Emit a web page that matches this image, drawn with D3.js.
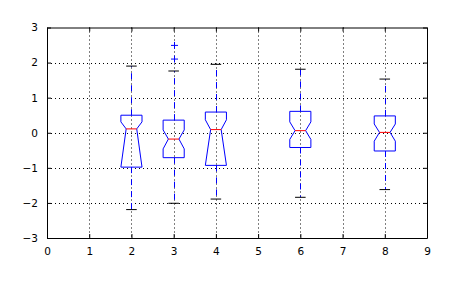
<!DOCTYPE html>
<html>
<head>
<meta charset="utf-8">
<script src="https://cdn.jsdelivr.net/npm/d3@7"></script>
<style>
body { margin: 0; background: #fff; }
svg { display: block; }
.tick text { font-family: "DejaVu Sans", sans-serif; font-size: 10.5px; fill: #000; }
</style>
</head>
<body>
<div id="chart"></div>
<script>
var width = 474;
var height = 281;

// box positions and statistics
var positions = [2, 3, 4, 6, 8];
var q1 = [-0.98, -0.71, -0.93, -0.42, -0.52];
var medians = [0.11, -0.18, 0.09, 0.06, 0.01];
var q3 = [0.50, 0.36, 0.59, 0.61, 0.48];
var notchLo = [-0.98, -0.46, -0.93, -0.19, -0.24];
var notchHi = [0.31, 0.08, 0.37, 0.31, 0.25];
var whiskLo = [-2.19, -2.01, -1.89, -1.84, -1.62];
var whiskHi = [1.90, 1.76, 1.95, 1.81, 1.53];
var fliers = [[], [2.10, 2.49], [], [], []];

var xTicks = [0, 1, 2, 3, 4, 5, 6, 7, 8, 9];
var yTicks = [-3, -2, -1, 0, 1, 2, 3];

var plotLeft = 47, plotRight = 427, plotTop = 27.5, plotBottom = 238;
var boxW = 0.5;

var svg = d3.select("#chart")
  .append("svg")
  .attr("width", width)
  .attr("height", height);

svg.append("rect").attr("width", width).attr("height", height).attr("fill", "#fff");

var x = d3.scaleLinear().domain([0, 9]).range([plotLeft, plotRight]);
var y = d3.scaleLinear().domain([-3, 3]).range([plotBottom, plotTop]);

// dotted grid
var grid = svg.append("g");
grid.selectAll("line.gx")
  .data(xTicks.slice(1, -1))
  .enter().append("line")
  .attr("x1", function(d) { return Math.round(x(d)) + 0.5; })
  .attr("x2", function(d) { return Math.round(x(d)) + 0.5; })
  .attr("y1", plotTop).attr("y2", plotBottom)
  .attr("stroke", "#000").attr("stroke-width", 1)
  .attr("stroke-dasharray", "1,3");
grid.selectAll("line.gy")
  .data(yTicks.slice(1, -1))
  .enter().append("line")
  .attr("y1", function(d) { return Math.round(y(d)) + 0.5; })
  .attr("y2", function(d) { return Math.round(y(d)) + 0.5; })
  .attr("x1", plotLeft).attr("x2", plotRight)
  .attr("stroke", "#000").attr("stroke-width", 1)
  .attr("stroke-dasharray", "1,3");

var boxes = svg.append("g");

positions.forEach(function(p, i) {
  var cx = Math.round(x(p)) + 0.5;
  // whiskers
  boxes.append("line")
    .attr("x1", cx).attr("x2", cx)
    .attr("y1", y(q3[i])).attr("y2", y(whiskHi[i]))
    .attr("stroke", "#0000ff").attr("stroke-width", 1)
    .attr("stroke-dasharray", "6,6");
  boxes.append("line")
    .attr("x1", cx).attr("x2", cx)
    .attr("y1", y(q1[i])).attr("y2", y(whiskLo[i]))
    .attr("stroke", "#0000ff").attr("stroke-width", 1)
    .attr("stroke-dasharray", "6,6");
  // caps
  [whiskLo[i], whiskHi[i]].forEach(function(v) {
    boxes.append("line")
      .attr("x1", x(p - boxW / 4)).attr("x2", x(p + boxW / 4))
      .attr("y1", y(v)).attr("y2", y(v))
      .attr("stroke", "#000").attr("stroke-width", 1);
  });
  // notched box
  var bl = x(p - boxW / 2), br = x(p + boxW / 2);
  var cl = x(p - boxW / 4), cr = x(p + boxW / 4);
  var pts = [
    [bl, y(q1[i])], [br, y(q1[i])], [br, y(notchLo[i])], [cr, y(medians[i])],
    [br, y(notchHi[i])], [br, y(q3[i])], [bl, y(q3[i])], [bl, y(notchHi[i])],
    [cl, y(medians[i])], [bl, y(notchLo[i])], [bl, y(q1[i])]
  ];
  boxes.append("path")
    .attr("d", d3.line()(pts))
    .attr("fill", "none")
    .attr("stroke", "#0000ff").attr("stroke-width", 1);
  // median
  boxes.append("line")
    .attr("x1", cl).attr("x2", cr)
    .attr("y1", y(medians[i])).attr("y2", y(medians[i]))
    .attr("stroke", "#ff0000").attr("stroke-width", 1);
  // outliers
  fliers[i].forEach(function(v) {
    var g = boxes.append("g").attr("transform", "translate(" + cx + "," + y(v) + ")");
    g.append("line").attr("x1", -3.5).attr("x2", 3.5).attr("y1", 0).attr("y2", 0)
      .attr("stroke", "#0000ff").attr("stroke-width", 1);
    g.append("line").attr("x1", 0).attr("x2", 0).attr("y1", -3.5).attr("y2", 3.5)
      .attr("stroke", "#0000ff").attr("stroke-width", 1);
  });
});

// axes with inward ticks
var xAxis = d3.axisBottom(x).tickValues(xTicks).tickSizeInner(-4).tickSizeOuter(0).tickPadding(10);
var yAxis = d3.axisLeft(y).tickValues(yTicks).tickSizeInner(-4).tickSizeOuter(0).tickPadding(9)
  .tickFormat(function(d) { return d < 0 ? "\u2212" + Math.abs(d) : d; });

svg.append("g").attr("transform", "translate(0," + plotBottom + ")").call(xAxis);
svg.append("g").attr("transform", "translate(" + plotLeft + ",0)").call(yAxis);
svg.append("g").attr("transform", "translate(0," + plotTop + ")")
  .call(d3.axisTop(x).tickValues(xTicks).tickSizeInner(-4).tickSizeOuter(0).tickFormat(""));
svg.append("g").attr("transform", "translate(" + plotRight + ",0)")
  .call(d3.axisRight(y).tickValues(yTicks).tickSizeInner(-4).tickSizeOuter(0).tickFormat(""));

svg.selectAll(".domain").attr("stroke", "#000");
svg.selectAll(".tick line").attr("stroke", "#000");
</script>
</body>
</html>
